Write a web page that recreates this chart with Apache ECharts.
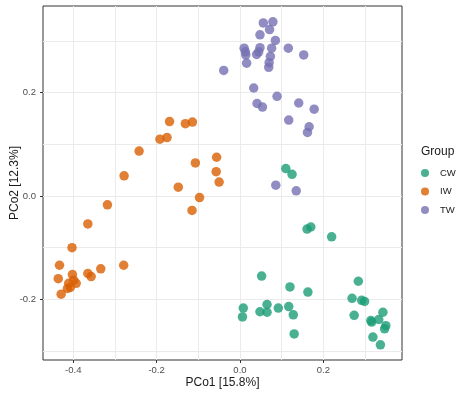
<!DOCTYPE html>
<html>
<head>
<meta charset="utf-8">
<script src="https://cdn.jsdelivr.net/npm/echarts@6/dist/echarts.min.js"></script>
<style>
html,body{margin:0;padding:0;background:#fff;}
#chart{width:474px;height:395px;}
</style>
</head>
<body>
<div id="chart"></div>
<script>
// ---- data ----
const groups = ['CW', 'IW', 'TW'];
const groupColors = ['#1B9E77', '#D95F02', '#7570B3'];

const cwX = [0.110, 0.125, 0.161, 0.170, 0.220, 0.052, 0.120, 0.163, 0.284, 0.269,
             0.292, 0.299, 0.008, 0.006, 0.065, 0.048, 0.065, 0.092, 0.117, 0.128,
             0.130, 0.274, 0.314, 0.316, 0.333, 0.343, 0.350, 0.347, 0.319, 0.337];
const cwY = [0.053, 0.042, -0.064, -0.060, -0.079, -0.155, -0.176, -0.186, -0.165, -0.198,
             -0.202, -0.204, -0.217, -0.234, -0.210, -0.224, -0.225, -0.217, -0.214, -0.230,
             -0.267, -0.231, -0.241, -0.244, -0.239, -0.225, -0.251, -0.257, -0.273, -0.288];

const iwX = [-0.169, -0.131, -0.114, -0.192, -0.175, -0.242, -0.107, -0.056, -0.057, -0.278,
             -0.148, -0.097, -0.115, -0.050, -0.318, -0.365, -0.403, -0.433, -0.279, -0.334,
             -0.365, -0.357, -0.402, -0.436, -0.411, -0.393, -0.399, -0.407, -0.414, -0.429];
const iwY = [0.144, 0.140, 0.143, 0.110, 0.113, 0.087, 0.064, 0.075, 0.047, 0.039,
             0.017, -0.003, -0.028, 0.027, -0.017, -0.054, -0.100, -0.134, -0.134, -0.141,
             -0.150, -0.156, -0.152, -0.160, -0.169, -0.169, -0.163, -0.177, -0.179, -0.190];

const twX = [0.056, 0.079, 0.071, 0.048, 0.085, 0.010, 0.013, 0.014, 0.048, 0.045,
             0.040, 0.076, 0.116, 0.153, 0.073, 0.070, 0.069, 0.016, -0.039, 0.033,
             0.089, 0.041, 0.054, 0.141, 0.178, 0.117, 0.166, 0.162, 0.086, 0.135];
const twY = [0.335, 0.337, 0.322, 0.312, 0.301, 0.286, 0.279, 0.273, 0.287, 0.279,
             0.274, 0.286, 0.286, 0.273, 0.270, 0.258, 0.249, 0.257, 0.243, 0.209,
             0.193, 0.179, 0.172, 0.180, 0.168, 0.147, 0.134, 0.123, 0.021, 0.010];

const xTicks = [-0.4, -0.2, 0.0, 0.2];
const yTicks = [-0.2, 0.0, 0.2];
const xRange = [-0.4726, 0.3888];
const yRange = [-0.3174, 0.3677];
const xTitle = 'PCo1 [15.8%]';
const yTitle = 'PCo2 [12.3%]';
const legendTitle = 'Group';

// ---- chart ----
const FONT = '"Liberation Sans", Arial, Helvetica, sans-serif';
const zip = (xs, ys) => xs.map((x, i) => [x, ys[i]]);
const seriesData = [zip(cwX, cwY), zip(iwX, iwY), zip(twX, twY)];

const chart = echarts.init(document.getElementById('chart'), null, {renderer: 'canvas'});

const gridLine = {show: true, showMinLine: false, showMaxLine: false,
                  lineStyle: {color: '#ebebeb', width: 1}};

const option = {
  animation: false,
  textStyle: {fontFamily: FONT},
  title: {
    text: legendTitle, left: 421, top: 146, padding: 0,
    textStyle: {fontSize: 12, fontWeight: 'normal', color: '#1a1a1a', fontFamily: FONT}
  },
  legend: {
    orient: 'vertical', left: 421, top: 168, padding: 0,
    itemWidth: 20, itemHeight: 8, itemGap: 8.5,
    icon: 'circle',
    data: groups,
    textStyle: {fontSize: 9.5, color: '#1a1a1a', fontFamily: FONT}
  },
  grid: {
    left: 43, right: 72, top: 6, bottom: 35,
    show: true, borderColor: '#333333', borderWidth: 1,
    outerBoundsMode: 'none', containLabel: false
  },
  xAxis: [
    {
      type: 'value', min: xRange[0], max: xRange[1], position: 'bottom',
      axisLine: {show: false, onZero: false},
      axisTick: {show: true, customValues: xTicks, length: 3, inside: false,
                 lineStyle: {color: '#333333', width: 1}},
      axisLabel: {show: true, customValues: xTicks, margin: 5, fontSize: 9.5, color: '#4d4d4d',
                  formatter: v => v.toFixed(1)},
      splitLine: {show: false},
      name: xTitle, nameLocation: 'middle', nameGap: 17, nameMoveOverlap: false,
      nameTextStyle: {fontSize: 12, color: '#1a1a1a', fontFamily: FONT}
    },
    {
      type: 'value', min: xRange[0], max: xRange[1], position: 'top',
      minInterval: 0.1, maxInterval: 0.1,
      axisLine: {show: false, onZero: false}, axisTick: {show: false}, axisLabel: {show: false},
      splitLine: gridLine
    }
  ],
  yAxis: [
    {
      type: 'value', min: yRange[0], max: yRange[1], position: 'left',
      axisLine: {show: false, onZero: false},
      axisTick: {show: true, customValues: yTicks, length: 3, inside: false,
                 lineStyle: {color: '#333333', width: 1}},
      axisLabel: {show: true, customValues: yTicks, margin: 7, fontSize: 9.5, color: '#4d4d4d',
                  formatter: v => v.toFixed(1)},
      splitLine: {show: false},
      name: yTitle, nameLocation: 'middle', nameGap: 22, nameRotate: 90, nameMoveOverlap: false,
      nameTextStyle: {fontSize: 12, color: '#1a1a1a', fontFamily: FONT}
    },
    {
      type: 'value', min: yRange[0], max: yRange[1], position: 'right',
      minInterval: 0.1, maxInterval: 0.1,
      axisLine: {show: false, onZero: false}, axisTick: {show: false}, axisLabel: {show: false},
      splitLine: gridLine
    }
  ],
  series: groups.map((g, i) => ({
    name: g, type: 'scatter', xAxisIndex: 0, yAxisIndex: 0,
    data: seriesData[i], symbol: 'circle', symbolSize: 9.5,
    itemStyle: {color: groupColors[i], opacity: 0.8},
    emphasis: {disabled: true}
  }))
};
chart.setOption(option);
</script>
</body>
</html>
